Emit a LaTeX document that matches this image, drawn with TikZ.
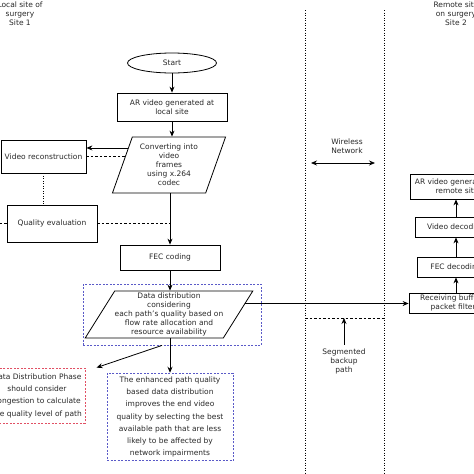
\documentclass[tikz,border=0pt]{standalone}
\usepackage{fontspec}
\setmainfont{DejaVu Sans}
\usetikzlibrary{arrows.meta}
\usetikzlibrary{shapes.geometric}
\usetikzlibrary{calc}

\definecolor{boxblue}{RGB}{90,90,200}
\definecolor{boxred}{RGB}{225,80,100}
\definecolor{txtgrey}{RGB}{40,40,40}

\tikzset{
  every node/.style={font=\fontsize{7.5}{9}\selectfont, text=txtgrey},
  procbox/.style={draw, line width=0.8pt, align=center, inner sep=1pt},
  iobox/.style={draw, line width=0.8pt, align=center, trapezium, trapezium stretches=true, inner sep=0pt},
  notebox/.style={dash pattern=on 2pt off 1.5pt, line width=0.8pt, align=center, font=\fontsize{7.5}{12.3}\selectfont},
  arr/.style={-{Stealth[length=6pt,width=5pt]}, line width=0.8pt},
  dashline/.style={dash pattern=on 2.5pt off 2pt, line width=0.7pt},
  dotline/.style={dash pattern=on 1pt off 1.5pt, line width=0.8pt}
}

\begin{document}
\begin{tikzpicture}[x=1pt, y=-1pt]
          \useasboundingbox (0,0) rectangle (474,474);

          \node[align=center] (site1) at (20,14) {Local site of\\surgery\\Site 1};
          \node[align=center] (site2) at (456,14) {Remote site\\on surgery\\Site 2};

          % network lanes
          \coordinate (lane1top) at (305,10);
          \coordinate (lane1bot) at (305,480);
          \coordinate (lane2top) at (384,10);
          \coordinate (lane2bot) at (384,480);
          \draw[dotline] (lane1top) -- (lane1bot);
          \draw[dotline] (lane2top) -- (lane2bot);

          \node[align=center] (wireless) at (347,146) {Wireless\\Network};
          \coordinate (wl) at (311,163);
          \coordinate (wr) at (375,163);
          \draw[{Stealth[length=6pt,width=5pt]}-{Stealth[length=6pt,width=5pt]}, line width=0.8pt] (wl) -- (wr);

          \coordinate (segl) at (305,318);
          \coordinate (segr) at (384,318);
          \draw[dashline] (segl) -- (segr);
          \node[align=center] (segpath) at (344,361) {Segmented\\backup\\path};
          \draw[arr] (segpath.north) -- (segpath.north |- segl);

          % local site
          \node[draw, ellipse, line width=0.8pt, minimum width=89pt, minimum height=20pt, inner sep=0pt] (start) at (172,63) {Start};
          \node[procbox, minimum width=110pt, minimum height=28pt] (arlocal) at (172,107) {AR video generated at\\local site};
          \node[iobox, trapezium left angle=69.4, trapezium right angle=110.6, minimum width=114pt, minimum height=56pt] (convert) at (169,165)
          {Converting into\\video\\frames\\using x.264\\codec};
          \node[procbox, minimum width=85pt, minimum height=33pt] (vrec) at (43.5,156.5) {Video reconstruction};
          \node[procbox, minimum width=90pt, minimum height=37pt] (qeval) at (52,223.5) {Quality evaluation};
          \node[procbox, minimum width=100pt, minimum height=25pt] (fec) at (170,257.5) {FEC coding};

          \node[draw=boxblue, notebox, minimum width=178pt, minimum height=61pt] (ddbox) at (172,314.5) {};
          \node[iobox, trapezium left angle=55.7, trapezium right angle=124.3, minimum width=166pt, minimum height=47pt] (ddist) at (169,314.5)
          {Data distribution\\considering\\each path's quality based on\\flow rate allocation and\\resource availability};

          \node[draw=boxred, notebox, minimum width=96pt, minimum height=55pt] (phase) at (37,395.5)
          {Data Distribution Phase\\should consider\\congestion to calculate\\the quality level of path};
          \node[draw=boxblue, notebox, minimum width=126pt, minimum height=86pt] (enh) at (170,417)
          {The enhanced path quality\\based data distribution\\improves the end video\\quality by selecting the best\\available path that are less\\likely to be affected by\\network impairments};

          % remote site
          \node[procbox, minimum width=94pt, minimum height=25pt] (arremote) at (457,186.5) {AR video generated at\\remote site};
          \node[procbox, minimum width=82pt, minimum height=20pt] (vdec) at (456,227) {Video decoding};
          \node[procbox, minimum width=78pt, minimum height=20pt] (fecdec) at (456,267) {FEC decoding};
          \node[procbox, minimum width=100pt, minimum height=20pt] (recv) at (459,303) {Receiving buffer and\\packet filtering};

          \draw[arr] (start) -- (arlocal);
          \draw[arr] (arlocal.south) -- (arlocal.south |- convert.north);

          \coordinate (convA) at ($(convert.top left corner)!0.2!(convert.bottom left corner)$);
          \coordinate (convB) at ($(convert.top left corner)!0.35!(convert.bottom left corner)$);
          \draw[arr] (convA) -- (convA -| vrec.east);
          \draw[dashline] (convB -| vrec.east) -- (convB);
          \draw[dotline] (vrec.south) -- (vrec.south |- qeval.north);

          \coordinate (qfree) at (-5,223.5);
          \draw[dashline] (qfree) -- (qeval.west);
          \draw[dashline] (qeval.east) -- (qeval.east -| fec.north);

          \draw[arr] (fec.north |- convert.south) -- (fec.north);
          \draw[arr] (fec.south) -- (fec.south |- ddist.north);

          \coordinate (ddR) at ($(ddist.top right corner)!0.27!(ddist.bottom right corner)$);
          \draw[arr] (ddR) -- (ddR -| recv.west);
          \draw[arr] ([xshift=-10pt]ddbox.south) -- ([xshift=11pt]phase.north east);
          \draw[arr] (enh.north |- ddist.bottom left corner) -- (enh.north);

          \draw[arr] (fecdec.south |- recv.north) -- (fecdec.south);
          \draw[arr] (fecdec.north) -- (vdec.south);
          \draw[arr] (vdec.north) -- (vdec.north |- arremote.south);

        \end{tikzpicture}
\end{document}
